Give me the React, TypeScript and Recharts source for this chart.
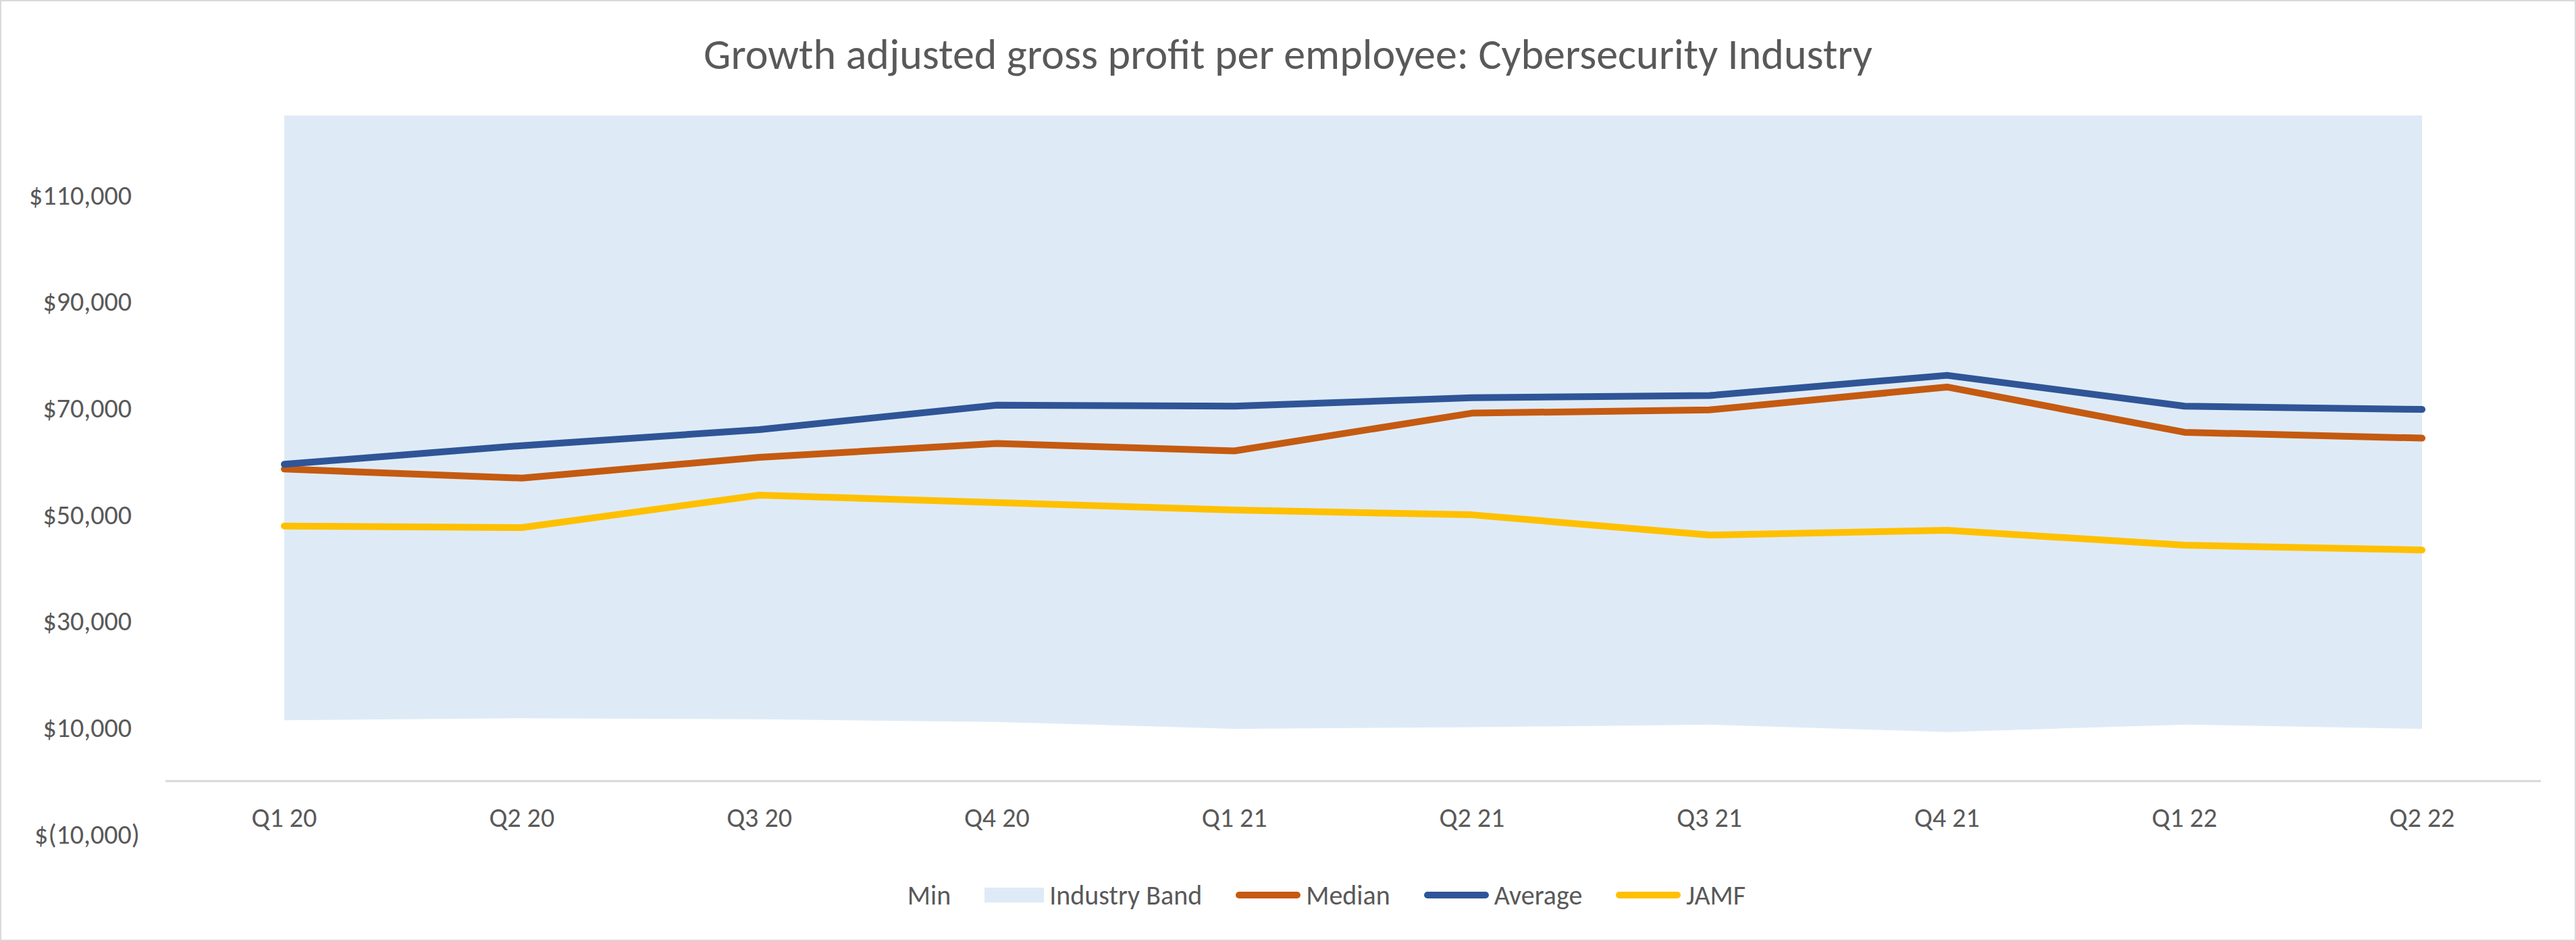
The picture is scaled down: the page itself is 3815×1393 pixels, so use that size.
import { ComposedChart, Area, Line, XAxis, YAxis, ReferenceLine, Legend } from "recharts";

const quarters = ["Q1 20", "Q2 20", "Q3 20", "Q4 20", "Q1 21", "Q2 21", "Q3 21", "Q4 21", "Q1 22", "Q2 22"];
const minValues = [11400, 11800, 11600, 11100, 9800, 10100, 10600, 9200, 10600, 9800];
// band height above Min; the top runs past the axis max and is clipped
const bandValues = [131200, 127900, 138400, 142600, 135100, 146300, 139800, 151700, 133900, 129500];
const medianValues = [58600, 56900, 60800, 63400, 62000, 69100, 69700, 74000, 65500, 64400];
const averageValues = [59500, 63000, 66000, 70600, 70400, 72000, 72400, 76200, 70400, 69800];
const jamfValues = [47900, 47600, 53700, 52300, 50900, 50000, 46200, 47100, 44300, 43400];
const yTicks = [-10000, 10000, 30000, 50000, 70000, 90000, 110000];

const data = quarters.map((q, i) => ({
  quarter: q,
  min: minValues[i],
  band: bandValues[i],
  median: medianValues[i],
  average: averageValues[i],
  jamf: jamfValues[i],
}));

const FONT = "Carlito, Calibri, Lato, sans-serif";
const GREY = "#595959";
const BAND = "#DEEBF7";
const MEDIAN = "#C55A11";
const AVERAGE = "#2F5597";
const JAMF = "#FFC000";

const legendOrder = ["min", "band", "median", "average", "jamf"];
const legendLook: Record<string, { kind: string; color: string }> = {
  min: { kind: "blank", color: "none" },
  band: { kind: "box", color: BAND },
  median: { kind: "line", color: MEDIAN },
  average: { kind: "line", color: AVERAGE },
  jamf: { kind: "line", color: JAMF },
};

function money(v: number) {
  const s = Math.abs(v).toLocaleString("en-US");
  return v < 0 ? `$(${s})` : `$${s}`;
}

const YTick = ({ y, payload }: any) => (
  <text
    x={payload.value < 0 ? 207 : 195}
    y={y}
    textAnchor="end"
    dominantBaseline="central"
    fill={GREY}
    fontSize={40}
    fontFamily={FONT}
  >
    {money(payload.value)}
  </text>
);

const XTick = ({ x, y, payload }: any) => (
  <text x={x} y={y - 33} textAnchor="middle" dominantBaseline="central" fill={GREY} fontSize={40} fontFamily={FONT}>
    {payload.value}
  </text>
);

function LegendContent({ payload }: any) {
  const items = [...(payload || [])].sort(
    (a: any, b: any) => legendOrder.indexOf(a.dataKey) - legendOrder.indexOf(b.dataKey)
  );
  return (
    <div
      style={{
        display: "flex",
        justifyContent: "center",
        alignItems: "center",
        height: 50,
        gap: 50,
        paddingLeft: 70,
        fontFamily: FONT,
        fontSize: 40,
        color: GREY,
      }}
    >
      {items.map((it: any) => {
        const look = legendLook[it.dataKey] || { kind: "line", color: it.color };
        return (
          <div key={it.dataKey} style={{ display: "flex", alignItems: "center", gap: 8 }}>
            {look.kind === "blank" && <span style={{ width: 88, height: 22 }} />}
            {look.kind === "box" && <span style={{ width: 88, height: 22, background: look.color }} />}
            {look.kind === "line" && (
              <span style={{ width: 96, height: 10, borderRadius: 5, background: look.color }} />
            )}
            <span>{it.value}</span>
          </div>
        );
      })}
    </div>
  );
}

export default function App() {
  return (
    <div style={{ position: "absolute", left: 0, top: 0, width: 3815, height: 1393, background: "#fff" }}>
      <div
        style={{
          position: "absolute",
          left: 0,
          top: 42,
          width: 3815,
          textAlign: "center",
          fontFamily: FONT,
          fontSize: 64,
          lineHeight: "76px",
          color: GREY,
        }}
      >
        Growth adjusted gross profit per employee: Cybersecurity Industry
      </div>
      <ComposedChart
        width={3815}
        height={1393}
        data={data}
        margin={{ top: 171, right: 52, bottom: 43, left: 0 }}
        style={{ position: "absolute", left: 0, top: 0 }}
      >
        <XAxis
          dataKey="quarter"
          scale="point"
          padding={{ left: 176, right: 176 }}
          height={65}
          axisLine={false}
          tickLine={false}
          tick={<XTick />}
          interval={0}
        />
        <YAxis
          width={245}
          domain={[-10000, 125000]}
          ticks={yTicks}
          allowDataOverflow
          axisLine={false}
          tickLine={false}
          tick={<YTick />}
          interval={0}
        />
        <Area
          dataKey="min"
          name="Min"
          stackId="band"
          stroke="none"
          fill="none"
          isAnimationActive={false}
        />
        <Area
          dataKey="band"
          name="Industry Band"
          stackId="band"
          stroke="none"
          fill={BAND}
          fillOpacity={1}
          isAnimationActive={false}
        />
        <ReferenceLine y={0} stroke="#D9D9D9" strokeWidth={3} />
        <Line
          dataKey="median"
          name="Median"
          stroke={MEDIAN}
          strokeWidth={10}
          strokeLinecap="round"
          strokeLinejoin="round"
          dot={false}
          activeDot={false}
          isAnimationActive={false}
        />
        <Line
          dataKey="average"
          name="Average"
          stroke={AVERAGE}
          strokeWidth={10}
          strokeLinecap="round"
          strokeLinejoin="round"
          dot={false}
          activeDot={false}
          isAnimationActive={false}
        />
        <Line
          dataKey="jamf"
          name="JAMF"
          stroke={JAMF}
          strokeWidth={10}
          strokeLinecap="round"
          strokeLinejoin="round"
          dot={false}
          activeDot={false}
          isAnimationActive={false}
        />
        <Legend verticalAlign="bottom" content={<LegendContent />} />
      </ComposedChart>
      <div
        style={{
          position: "absolute",
          left: 0,
          top: 0,
          width: 3815,
          height: 1393,
          boxSizing: "border-box",
          border: "2px solid #D9D9D9",
          pointerEvents: "none",
        }}
      />
    </div>
  );
}
